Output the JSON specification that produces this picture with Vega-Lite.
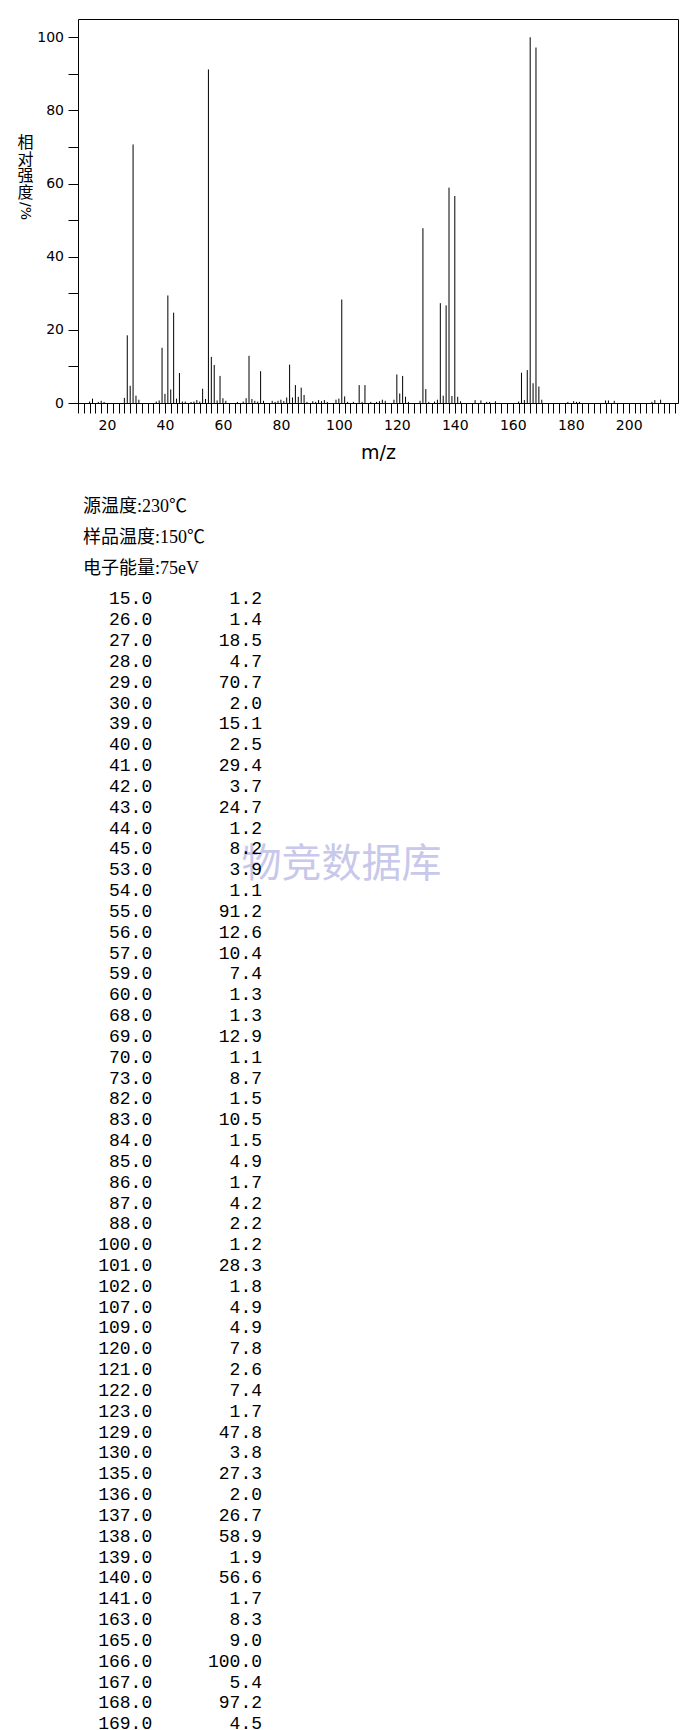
{
  "$schema": "https://vega.github.io/schema/vega-lite/v6.json",
  "padding": {"left": 16, "top": 18, "right": 0, "bottom": 0},
  "background": "white",
  "spacing": 0,
  "bounds": "flush",
  "config": {
    "view": {"stroke": "#000", "strokeWidth": 1},
    "font": "DejaVu Sans",
    "axis": {"labelFont": "DejaVu Sans", "labelFontSize": 14, "labelColor": "#000", "tickColor": "#000", "tickWidth": 1, "titleColor": "#000", "grid": false, "domain": false}
  },
  "datasets": {
    "peaks": [
      {"mz": 14, "inten": 0.4}, {"mz": 15, "inten": 1.2}, {"mz": 17, "inten": 0.3}, {"mz": 18, "inten": 0.6}, {"mz": 19, "inten": 0.3},
      {"mz": 26, "inten": 1.4}, {"mz": 27, "inten": 18.5}, {"mz": 28, "inten": 4.7}, {"mz": 29, "inten": 70.7}, {"mz": 30, "inten": 2.0}, {"mz": 31, "inten": 0.9},
      {"mz": 37, "inten": 0.4}, {"mz": 38, "inten": 0.7}, {"mz": 39, "inten": 15.1}, {"mz": 40, "inten": 2.5}, {"mz": 41, "inten": 29.4}, {"mz": 42, "inten": 3.7},
      {"mz": 43, "inten": 24.7}, {"mz": 44, "inten": 1.2}, {"mz": 45, "inten": 8.2}, {"mz": 46, "inten": 0.4}, {"mz": 47, "inten": 0.4}, {"mz": 49, "inten": 0.3},
      {"mz": 50, "inten": 0.4}, {"mz": 51, "inten": 0.8}, {"mz": 52, "inten": 0.4}, {"mz": 53, "inten": 3.9}, {"mz": 54, "inten": 1.1}, {"mz": 55, "inten": 91.2},
      {"mz": 56, "inten": 12.6}, {"mz": 57, "inten": 10.4}, {"mz": 58, "inten": 0.7}, {"mz": 59, "inten": 7.4}, {"mz": 60, "inten": 1.3}, {"mz": 61, "inten": 0.6},
      {"mz": 65, "inten": 0.3}, {"mz": 67, "inten": 0.4}, {"mz": 68, "inten": 1.3}, {"mz": 69, "inten": 12.9}, {"mz": 70, "inten": 1.1}, {"mz": 71, "inten": 0.6},
      {"mz": 72, "inten": 0.4}, {"mz": 73, "inten": 8.7}, {"mz": 74, "inten": 0.6}, {"mz": 77, "inten": 0.6}, {"mz": 78, "inten": 0.3}, {"mz": 79, "inten": 0.6},
      {"mz": 80, "inten": 0.9}, {"mz": 81, "inten": 0.5}, {"mz": 82, "inten": 1.5}, {"mz": 83, "inten": 10.5}, {"mz": 84, "inten": 1.5}, {"mz": 85, "inten": 4.9},
      {"mz": 86, "inten": 1.7}, {"mz": 87, "inten": 4.2}, {"mz": 88, "inten": 2.2}, {"mz": 89, "inten": 0.3}, {"mz": 91, "inten": 0.5}, {"mz": 92, "inten": 0.3},
      {"mz": 93, "inten": 0.8}, {"mz": 94, "inten": 0.5}, {"mz": 95, "inten": 0.8}, {"mz": 96, "inten": 0.3}, {"mz": 99, "inten": 0.9}, {"mz": 100, "inten": 1.2},
      {"mz": 101, "inten": 28.3}, {"mz": 102, "inten": 1.8}, {"mz": 103, "inten": 0.3}, {"mz": 105, "inten": 0.3}, {"mz": 107, "inten": 4.9}, {"mz": 108, "inten": 0.3},
      {"mz": 109, "inten": 4.9}, {"mz": 111, "inten": 0.3}, {"mz": 113, "inten": 0.3}, {"mz": 114, "inten": 0.5}, {"mz": 115, "inten": 0.9}, {"mz": 116, "inten": 0.6},
      {"mz": 119, "inten": 0.9}, {"mz": 120, "inten": 7.8}, {"mz": 121, "inten": 2.6}, {"mz": 122, "inten": 7.4}, {"mz": 123, "inten": 1.7}, {"mz": 124, "inten": 0.3},
      {"mz": 128, "inten": 0.6}, {"mz": 129, "inten": 47.8}, {"mz": 130, "inten": 3.8}, {"mz": 131, "inten": 0.3}, {"mz": 133, "inten": 0.4}, {"mz": 134, "inten": 0.9},
      {"mz": 135, "inten": 27.3}, {"mz": 136, "inten": 2.0}, {"mz": 137, "inten": 26.7}, {"mz": 138, "inten": 58.9}, {"mz": 139, "inten": 1.9}, {"mz": 140, "inten": 56.6},
      {"mz": 141, "inten": 1.7}, {"mz": 142, "inten": 0.5}, {"mz": 147, "inten": 0.8}, {"mz": 149, "inten": 0.7}, {"mz": 151, "inten": 0.3}, {"mz": 152, "inten": 0.3},
      {"mz": 154, "inten": 0.5}, {"mz": 162, "inten": 0.4}, {"mz": 163, "inten": 8.3}, {"mz": 164, "inten": 0.8}, {"mz": 165, "inten": 9.0}, {"mz": 166, "inten": 100.0},
      {"mz": 167, "inten": 5.4}, {"mz": 168, "inten": 97.2}, {"mz": 169, "inten": 4.5}, {"mz": 170, "inten": 0.9}, {"mz": 179, "inten": 0.3}, {"mz": 181, "inten": 0.5},
      {"mz": 182, "inten": 0.3}, {"mz": 183, "inten": 0.3}, {"mz": 192, "inten": 0.7}, {"mz": 193, "inten": 0.7}, {"mz": 195, "inten": 0.6}, {"mz": 208, "inten": 0.3},
      {"mz": 209, "inten": 0.8}, {"mz": 211, "inten": 0.9}
    ],
    "hdr": [
      {"n": 1, "t": "源温度:230℃"},
      {"n": 2, "t": "样品温度:150℃"},
      {"n": 3, "t": "电子能量:75eV"}
    ]
  },
  "vconcat": [
    {
      "width": 600,
      "height": 384,
      "data": {"name": "peaks"},
      "mark": {"type": "rule", "color": "#000", "strokeWidth": 1},
      "encoding": {
        "x": {
          "field": "mz", "type": "quantitative",
          "scale": {"domain": [10, 217], "nice": false, "zero": false},
          "axis": {
            "values": [10,12,14,16,18,20,22,24,26,28,30,32,34,36,38,40,42,44,46,48,50,52,54,56,58,60,62,64,66,68,70,72,74,76,78,80,82,84,86,88,90,92,94,96,98,100,102,104,106,108,110,112,114,116,118,120,122,124,126,128,130,132,134,136,138,140,142,144,146,148,150,152,154,156,158,160,162,164,166,168,170,172,174,176,178,180,182,184,186,188,190,192,194,196,198,200,202,204,206,208,210,212,214,216],
            "tickSize": 10,
            "encode": {"ticks": {"update": {"y2": {"signal": "datum.value % 20 === 0 ? 10 : 5"}}}},
            "labelExpr": "datum.value % 20 === 0 ? datum.label : ''",
            "labelOverlap": false, "labelFlush": false, "labelBound": false,
            "labelPadding": 5,
            "title": "m/z", "titleFont": "DejaVu Sans", "titleFontSize": 19, "titleFontWeight": "normal",
            "titleX": 300, "titleY": 55, "titleAlign": "center", "titleBaseline": "alphabetic"
          }
        },
        "y": {
          "field": "inten", "type": "quantitative",
          "scale": {"domain": [0, 105], "nice": false, "zero": false},
          "axis": {
            "values": [0,10,20,30,40,50,60,70,80,90,100],
            "tickSize": 10,
            "encode": {"ticks": {"update": {"x2": {"signal": "datum.value % 20 === 0 ? -10 : -5"}}}},
            "labelExpr": "datum.value % 20 === 0 ? datum.label : ''",
            "labelOverlap": false, "labelFlush": false, "labelBound": false,
            "labelPadding": 4.5,
            "title": ["相", "对", "强", "度"], "titleAngle": 0, "titleX": -53, "titleY": 123.6,
            "titleAlign": "center", "titleBaseline": "middle",
            "titleFont": "Noto Sans CJK SC", "titleFontSize": 16, "titleLineHeight": 16.67, "titleFontWeight": "normal"
          }
        },
        "y2": {"datum": 0}
      }
    },
    {
      "width": 10,
      "height": 185.1,
      "view": {"stroke": null},
      "layer": [
        {
          "data": {"name": "hdr"},
          "mark": {"type": "text", "align": "left", "baseline": "middle", "font": "Liberation Serif, Noto Sans CJK SC", "fontSize": 18, "color": "#000"},
          "encoding": {
            "y": {"field": "n", "type": "quantitative", "scale": {"domain": [-2.368, 3.603], "reverse": true, "nice": false, "zero": false}, "axis": null},
            "text": {"field": "t"}
          }
        },
        {
          "data": {"values": [{"t": "/%"}]},
          "mark": {"type": "text", "angle": 90, "dy": 58, "align": "center", "baseline": "middle", "font": "DejaVu Sans", "fontSize": 14, "color": "#000"},
          "encoding": {
            "y": {"datum": -8.56, "type": "quantitative", "scale": {"domain": [-2.368, 3.603], "reverse": true, "nice": false, "zero": false}, "axis": null},
            "text": {"field": "t"}
          }
        }
      ]
    },
    {
      "width": 400,
      "height": 1145.7,
      "view": {"stroke": null},
      "resolve": {"scale": {"y": "independent"}},
      "layer": [
        {
          "data": {"values": [{"t": "物竞数据库"}]},
          "mark": {"type": "text", "font": "Noto Sans CJK SC", "fontSize": 40, "color": "#c8c8ea", "align": "center", "baseline": "middle", "dx": 79.5},
          "encoding": {
            "x": {"datum": "inten", "type": "nominal", "scale": {"type": "point", "domain": ["mz", "inten"], "range": [74.2, 184], "padding": 0}, "axis": null},
            "y": {"datum": 13.245, "type": "quantitative", "scale": {"domain": [0, 55], "reverse": true, "nice": false, "zero": false}, "axis": null},
            "text": {"field": "t"}
          }
        },
        {
          "data": {"name": "peaks"},
          "transform": [
            {"filter": "datum.inten >= 1"},
            {"fold": ["mz", "inten"], "as": ["key", "value"]}
          ],
          "mark": {"type": "text", "align": "right", "baseline": "middle", "font": "Liberation Mono", "fontSize": 18, "color": "#000"},
          "encoding": {
            "x": {"field": "key", "type": "nominal", "scale": {"type": "point", "domain": ["mz", "inten"], "range": [74.2, 184], "padding": 0}, "axis": null},
            "y": {"field": "mz", "type": "ordinal", "scale": {"type": "band", "paddingInner": 0, "paddingOuter": 0}, "axis": null},
            "text": {"field": "value", "type": "quantitative", "format": ".1f"}
          }
        }
      ]
    }
  ]
}
